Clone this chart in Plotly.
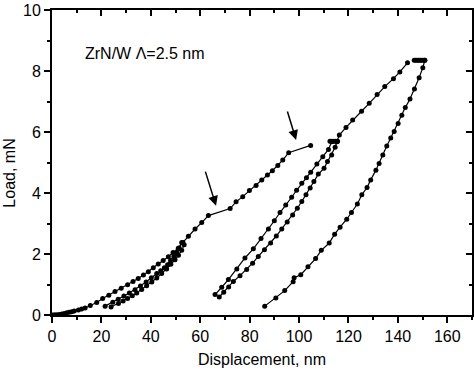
import plotly.graph_objects as go

# Initial loading with pop-ins
load1_x = [0, 1, 2, 3, 4, 5, 6, 7, 8, 9, 10.7, 12, 13.4, 15.5, 18.1, 20.5, 23, 25.5, 28, 30.6,
           32.8, 34.9, 37, 39, 41, 43, 45, 47.1, 49, 51.1, 53, 55.2, 57.9, 60.6, 63.3,
           72.1, 74.5, 77.2, 79.9, 82.6, 84.9, 87.2, 89.2, 91.4, 93.4, 95.8, 104.7]
load1_y = [0, 0.005, 0.01, 0.02, 0.035, 0.05, 0.07, 0.09, 0.11, 0.13, 0.16, 0.2, 0.23, 0.31, 0.41, 0.54, 0.65, 0.77, 0.88, 0.99,
           1.1, 1.2, 1.31, 1.42, 1.55, 1.67, 1.79, 1.91, 2.05, 2.19, 2.38, 2.58, 2.82, 3.03, 3.26,
           3.49, 3.71, 3.88, 4.08, 4.25, 4.43, 4.59, 4.73, 4.90, 5.08, 5.32, 5.56]

# First small unload / reload
unload1_x = [52.5, 51.5, 50.5, 49.3, 48, 46.8, 45.5, 44, 42.4, 40.2, 38.1, 35.8, 33.6, 31.3, 29.1, 26.8, 24.6, 21.5]
unload1_y = [2.38, 2.2, 2.05, 1.92, 1.79, 1.65, 1.55, 1.45, 1.36, 1.22, 1.08, 0.95, 0.83, 0.72, 0.62, 0.52, 0.42, 0.29]
reload1_x = [23.9, 26.9, 28.8, 30.6, 32.5, 34.3, 36.3, 38.3, 40.4, 42.4, 44.4, 46.4, 48.1, 49.8, 51.2, 52.5, 53.5]
reload1_y = [0.26, 0.38, 0.46, 0.54, 0.63, 0.72, 0.84, 0.96, 1.08, 1.21, 1.36, 1.51, 1.66, 1.81, 1.96, 2.12, 2.3]

# Second cycle
unload2_x = [113.2, 111.9, 109.6, 107.2, 104.7, 103.0, 101.1, 99.0, 97.0, 94.6, 92.3, 90.0, 87.6, 84.6, 81.5, 78.1, 74.8, 71.4, 68.7, 66.0]
unload2_y = [5.68, 5.43, 5.19, 4.95, 4.68, 4.50, 4.32, 4.09, 3.86, 3.61, 3.36, 3.09, 2.82, 2.51, 2.17, 1.87, 1.51, 1.16, 0.91, 0.67]
reload2_x = [67.7, 69.5, 71.5, 73.4, 76.1, 78.8, 81.2, 83.5, 86.0, 88.5, 90.8, 93.0, 95.2, 97.4, 99.3, 101.1, 102.8,
             104.5, 106.0, 107.8, 110.1, 111.5, 113.2, 114.6, 115.3]
reload2_y = [0.59, 0.75, 0.92, 1.10, 1.29, 1.49, 1.70, 1.92, 2.14, 2.36, 2.59, 2.82, 3.05, 3.28, 3.50, 3.72, 3.94,
             4.16, 4.38, 4.62, 4.81, 5.03, 5.25, 5.50, 5.68]
hold2_x = [112.5, 113.3, 114.1, 114.9, 115.6]
hold2_y = [5.70, 5.70, 5.70, 5.70, 5.70]

# Final loading, hold and unloading
load3_x = [115.3, 116.3, 119.0, 121.7, 125.3, 128.4, 131.6, 134.7, 138.2, 140.8, 143.9]
load3_y = [5.68, 5.90, 6.15, 6.39, 6.68, 6.94, 7.23, 7.49, 7.75, 7.97, 8.27]
hold3_x = [146.6, 147.2, 147.8, 148.4, 149.0, 149.6, 150.2, 150.9]
hold3_y = [8.35, 8.35, 8.35, 8.35, 8.35, 8.35, 8.35, 8.35]
unload3_x = [150.9, 150.1, 148.6, 146.7, 144.9, 143.0, 141.6, 140.1, 138.5, 137.1, 135.5, 133.9, 132.4, 131.1,
             129.0, 127.5, 125.4, 123.6, 121.2, 119.3, 116.6, 114.4, 112.2, 109.0, 106.7, 103.6, 100.7,
             98.0, 97.6, 94.2, 90.6, 86.1]
unload3_y = [8.35, 8.11, 7.78, 7.41, 7.08, 6.80, 6.55, 6.28, 6.02, 5.80, 5.54, 5.25, 4.97, 4.75,
             4.43, 4.18, 3.94, 3.64, 3.36, 3.14, 2.88, 2.65, 2.36, 2.12, 1.85, 1.58, 1.32,
             1.22, 1.09, 0.80, 0.56, 0.29]

x_ticks = [0, 20, 40, 60, 80, 100, 120, 140, 160]
y_ticks = [0, 2, 4, 6, 8, 10]

# Arrows (tail -> head) marking pop-in events
arrow_tail_x = [61.9, 95.1]
arrow_tail_y = [4.75, 6.72]
arrow_head_x = [66.4, 98.8]
arrow_head_y = [3.58, 5.74]

label_text = "ZrN/W Λ=2.5 nm"
x_title = "Displacement, nm"
y_title = "Load, mN"

FONT = "Liberation Sans, Arial, Helvetica, sans-serif"

fig = go.Figure()
series = [(load1_x, load1_y), (unload1_x, unload1_y), (reload1_x, reload1_y),
          (unload2_x, unload2_y), (reload2_x, reload2_y), (hold2_x, hold2_y),
          (load3_x, load3_y), (hold3_x, hold3_y), (unload3_x, unload3_y)]
for xs, ys in series:
    fig.add_trace(go.Scatter(x=xs, y=ys, mode="lines+markers",
                             line=dict(color="black", width=1.2),
                             marker=dict(color="black", size=5),
                             showlegend=False, hoverinfo="skip"))

# invisible trace for the mirrored axes
fig.add_trace(go.Scatter(x=[0], y=[0], xaxis="x2", yaxis="y2", mode="markers",
                         marker=dict(opacity=0), showlegend=False, hoverinfo="skip"))

for tx, ty, hx, hy in zip(arrow_tail_x, arrow_tail_y, arrow_head_x, arrow_head_y):
    fig.add_annotation(x=hx, y=hy, ax=tx, ay=ty, xref="x", yref="y", axref="x", ayref="y",
                       showarrow=True, arrowhead=2, arrowsize=1.3, arrowwidth=1.5,
                       arrowcolor="black", text="")

fig.add_annotation(x=12.5, y=8.58, xref="x", yref="y", text=label_text, showarrow=False,
                   xanchor="left", yanchor="middle", font=dict(size=16, color="black", family=FONT))

# axis titles (plot area: x 52..472, y 9.5..315.5)
fig.add_annotation(x=0.5, y=-0.145, xref="paper", yref="paper", text=x_title, showarrow=False,
                   xanchor="center", yanchor="middle", font=dict(size=16, color="black", family=FONT))
fig.add_annotation(x=-0.102, y=0.464, xref="paper", yref="paper", text=y_title, showarrow=False,
                   textangle=-90, xanchor="center", yanchor="middle",
                   font=dict(size=16, color="black", family=FONT))

axis_common = dict(showline=True, linewidth=2, linecolor="black", showgrid=False, zeroline=False,
                   tickcolor="black", tickwidth=1.5, ticklen=6, automargin=False)

fig.update_layout(
    width=474, height=371,
    margin=dict(l=52, r=2, t=9.5, b=55.5, pad=0),
    plot_bgcolor="white", paper_bgcolor="white",
    font=dict(family=FONT, size=16, color="black"),
    xaxis=dict(range=[0, 170], tickvals=x_ticks, ticks="outside",
               minor=dict(dtick=10, tick0=0, ticks="outside", ticklen=3, tickcolor="black", tickwidth=1.5),
               tickfont=dict(size=16), **axis_common),
    yaxis=dict(range=[0, 10], tickvals=y_ticks, ticks="outside",
               minor=dict(dtick=1, tick0=0, ticks="outside", ticklen=3, tickcolor="black", tickwidth=1.5),
               tickfont=dict(size=16), **axis_common),
    xaxis2=dict(range=[0, 170], overlaying="x", side="top", tickvals=x_ticks, ticks="inside",
                minor=dict(dtick=10, tick0=0, ticks="inside", ticklen=3, tickcolor="black", tickwidth=1.5),
                showticklabels=False, **axis_common),
    yaxis2=dict(range=[0, 10], overlaying="y", side="right", tickvals=y_ticks, ticks="inside",
                minor=dict(dtick=1, tick0=0, ticks="inside", ticklen=3, tickcolor="black", tickwidth=1.5),
                showticklabels=False, **axis_common),
)

fig.write_html("out.html", config={"displayModeBar": False},
               post_script="document.body.style.margin='0';document.body.style.padding='0';document.body.style.overflow='hidden';")
